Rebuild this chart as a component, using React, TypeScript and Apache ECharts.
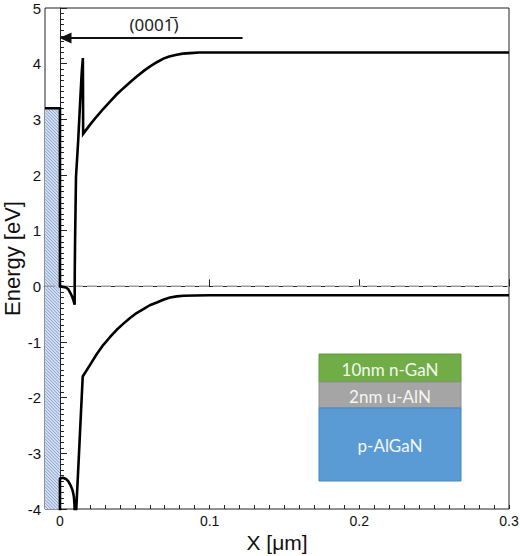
import React, { useEffect, useRef } from "react";
import * as echarts from "echarts";

// Band edges (x in µm, energy in eV)
const cbX = [-0.01, 0, 0, 0.002, 0.004, 0.0055, 0.007, 0.0082, 0.0091, 0.0098, 0.0099, 0.0101, 0.0107, 0.0122, 0.0133, 0.0145, 0.0153, 0.0155, 0.02, 0.0245, 0.029, 0.0334, 0.038, 0.0424, 0.047, 0.0513, 0.056, 0.0602, 0.065, 0.0691, 0.073, 0.078, 0.082, 0.087, 0.093, 0.1, 0.127, 0.3];
const cbE = [3.2, 3.2, 0, -0.01, -0.02, -0.05, -0.12, -0.19, -0.26, -0.33, 0.3, 0.83, 1.96, 2.63, 3.22, 3.83, 4.1, 2.74, 2.9, 3.05, 3.19, 3.32, 3.45, 3.56, 3.67, 3.77, 3.87, 3.95, 4.03, 4.09, 4.13, 4.16, 4.18, 4.19, 4.2, 4.2, 4.2, 4.2];

const vbX = [0, 0, 0.002, 0.004, 0.0055, 0.007, 0.0085, 0.0093, 0.0097, 0.0099, 0.0103, 0.0109, 0.0131, 0.0152, 0.0201, 0.0245, 0.029, 0.0335, 0.0379, 0.0424, 0.0468, 0.0512, 0.0557, 0.06, 0.0647, 0.069, 0.0736, 0.078, 0.0825, 0.09, 0.1, 0.127, 0.3];
const vbE = [-4.1, -3.45, -3.44, -3.46, -3.5, -3.57, -3.67, -3.78, -3.92, -4.1, -4.1, -4.0, -2.79, -1.62, -1.41, -1.22, -1.05, -0.91, -0.78, -0.67, -0.57, -0.48, -0.41, -0.34, -0.29, -0.24, -0.2, -0.18, -0.17, -0.165, -0.16, -0.16, -0.16];

// Contact region (hatched): [xStart, xEnd, eTop, eBottom]
const contact = [-0.01, 0, 3.2, -4];

// Fermi level reference
const fermiX = [-0.01, 0.3];
const fermiE = 0;

// Growth direction arrow
const arrowFrom = [0.122, 4.46];
const arrowTo = [0.0037, 4.46];
const arrowText = "(000" + "1\u0305" + ")";

// Axes
const xMin = -0.01;
const xMax = 0.3;
const xMajor = [0, 0.1, 0.2, 0.3];
const yMin = -4;
const yMax = 5;

// Layer stack inset
const layers = [
  { label: "10nm n-GaN", color: "#70ad47", border: "#5f9a3b", h: 28 },
  { label: "2nm u-AlN", color: "#a5a5a5", border: "#8f8f8f", h: 26 },
  { label: "p-AlGaN", color: "#5b9bd5", border: "#4a84ba", h: 73 },
];

const zip = (xs: number[], ys: number[]) => xs.map((x, i) => [x, ys[i]]);

export default function App() {
  const ref = useRef<HTMLDivElement>(null);

  useEffect(() => {
    if (!ref.current) return;
    const chart = echarts.init(ref.current, undefined, { renderer: "svg" });

    const insetX = 319;
    const insetW = 142;
    let yy = 354;
    const insetEls: any[] = [];
    layers.forEach((l) => {
      insetEls.push({
        type: "rect",
        shape: { x: insetX, y: yy, width: insetW, height: l.h },
        style: { fill: l.color, stroke: l.border, lineWidth: 1 },
      });
      insetEls.push({
        type: "text",
        x: insetX + insetW / 2,
        y: yy + l.h / 2 + 1,
        style: {
          text: l.label,
          fill: "#f4f7f2",
          font: "17px Lato, 'Open Sans', sans-serif",
          align: "center",
          verticalAlign: "middle",
        },
      });
      yy += l.h;
    });

    const axisFont = { fontFamily: "'Liberation Sans', Arial, sans-serif", color: "#111" };

    chart.setOption({
      animation: false,
      grid: {
        left: 45,
        right: 11,
        top: 8,
        bottom: 47,
        containLabel: false,
        outerBoundsMode: "none",
        show: true,
        borderColor: "#222",
        borderWidth: 1,
        backgroundColor: "transparent",
      },
      xAxis: [
        {
          type: "value",
          min: xMin,
          max: xMax,
          name: "X [\u03bcm]",
          nameLocation: "middle",
          nameGap: 23,
          nameMoveOverlap: false,
          nameTextStyle: { ...axisFont, fontSize: 21 },
          axisLine: { show: true, lineStyle: { color: "#222", width: 1 } },
          axisTick: { show: true, inside: true, length: 7, customValues: xMajor, lineStyle: { color: "#222" } },
          axisLabel: { show: true, customValues: xMajor, fontSize: 14, margin: 5, ...axisFont },
          splitLine: { show: false },
        },
        {
          type: "value",
          min: xMin,
          max: xMax,
          interval: 0.01,
          position: "bottom",
          axisLine: { show: false },
          axisTick: { show: true, inside: true, length: 4, lineStyle: { color: "#222" } },
          axisLabel: { show: false },
          splitLine: { show: false },
        },
      ],
      yAxis: {
        type: "value",
        min: yMin,
        max: yMax,
        interval: 1,
        name: "Energy [eV]",
        nameLocation: "middle",
        nameGap: 22,
        nameMoveOverlap: false,
        nameTextStyle: { ...axisFont, fontSize: 22 },
        axisLine: { show: true, lineStyle: { color: "#222", width: 1 } },
        axisTick: { show: true, inside: true, length: 7, lineStyle: { color: "#222" } },
        minorTick: { show: true, splitNumber: 10, length: 4, lineStyle: { color: "#222" } },
        axisLabel: { fontSize: 15, margin: 4, ...axisFont },
        splitLine: { show: false },
      },
      series: [
        {
          type: "custom",
          name: "contact",
          z: 1,
          silent: true,
          clip: true,
          data: [contact],
          encode: { x: [0, 1], y: [2, 3] },
          renderItem: (params: any, api: any) => {
            const p0 = api.coord([api.value(0), api.value(2)]);
            const p1 = api.coord([api.value(1), api.value(3)]);
            const x0 = Math.min(p0[0], p1[0]);
            const x1 = Math.max(p0[0], p1[0]);
            const y0 = Math.min(p0[1], p1[1]);
            const y1 = Math.max(p0[1], p1[1]);
            const children: any[] = [
              {
                type: "rect",
                shape: { x: x0, y: y0, width: x1 - x0, height: y1 - y0 },
                style: { fill: "#d3def1", stroke: null },
              },
            ];
            const step = 3.2;
            for (let c = y0 - x1; c <= y1 - x0; c += step) {
              const xs = Math.max(x0, y0 - c);
              const xe = Math.min(x1, y1 - c);
              if (xe > xs) {
                children.push({
                  type: "line",
                  shape: { x1: xs, y1: xs + c, x2: xe, y2: xe + c },
                  style: { stroke: "#7f9bcb", lineWidth: 0.9 },
                });
              }
            }
            return { type: "group", children };
          },
        },
        {
          type: "line",
          name: "Fermi",
          z: 2,
          silent: true,
          symbol: "none",
          data: fermiX.map((x) => [x, fermiE]),
          lineStyle: { color: "#9d9d9d", width: 1.5, type: [10, 4] },
        },
        {
          type: "line",
          name: "Ec",
          z: 3,
          symbol: "none",
          silent: true,
          data: zip(cbX, cbE),
          lineStyle: { color: "#000", width: 2.6, join: "miter" },
        },
        {
          type: "line",
          name: "Ev",
          z: 3,
          symbol: "none",
          silent: true,
          data: zip(vbX, vbE),
          lineStyle: { color: "#000", width: 2.6 },
        },
        {
          type: "line",
          name: "direction",
          z: 4,
          data: [],
          silent: true,
          markLine: {
            silent: true,
            animation: false,
            symbol: ["none", "triangle"],
            symbolSize: [11, 12],
            lineStyle: { color: "#111", width: 2, type: "solid" },
            label: {
              show: true,
              position: "middle",
              formatter: arrowText,
              distance: 5,
              color: "#222",
              fontSize: 17,
              fontFamily: "'Noto Sans', 'DejaVu Sans', sans-serif",
            },
            data: [[{ coord: arrowFrom }, { coord: arrowTo }]],
          },
        },
      ],
      graphic: insetEls,
    });

    return () => chart.dispose();
  }, []);

  return (
    <div
      ref={ref}
      style={{ position: "fixed", left: 0, top: 0, width: 520, height: 556, background: "#fff" }}
    />
  );
}
